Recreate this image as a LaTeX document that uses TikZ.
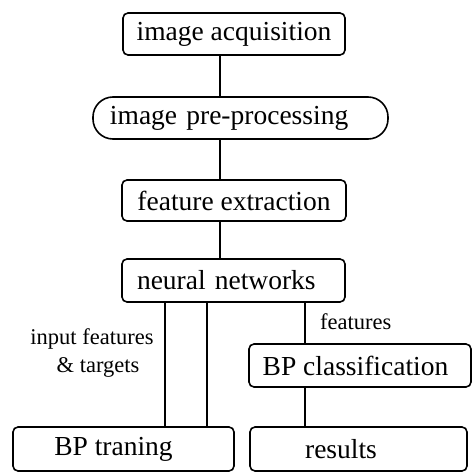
\documentclass[tikz,border=0pt]{standalone}
\usepackage{fontspec}
\setmainfont{Liberation Serif}
\begin{document}
\begin{tikzpicture}[x=1pt,y=1pt,
  box/.style={draw=black, line width=1.6pt, rounded corners=5pt, inner sep=0pt,
    font=\fontsize{27.5}{30}\selectfont},
  pill/.style={box, rounded corners=20pt},
  lbl/.style={font=\fontsize{22.5}{28}\selectfont, inner sep=0pt},
  link/.style={line width=1.6pt}]
\useasboundingbox (0,0) rectangle (474,475);
\node[box, minimum width=222pt, minimum height=42pt] (acq) at (234,441) {image acquisition};
\node[pill, minimum width=295pt, minimum height=42pt, text width=261pt, align=left] (pre) at (240.5,357) {image pre-processing};
\node[box, minimum width=224pt, minimum height=41pt] (feat) at (234,274.5) {feature extraction};
\node[box, minimum width=223pt, minimum height=43pt, text width=193pt, align=left] (nn) at (233.5,194.5) {neural networks};
\node[box, minimum width=222pt, minimum height=43pt] (bpc) at (360,109.5) {BP classification\kern9pt};
\node[box, minimum width=221pt, minimum height=44pt] (bpt) at (123.5,26) {BP traning\kern20pt};
\node[box, minimum width=217pt, minimum height=44pt] (res) at (358.5,26) {results\kern35pt};
\node[lbl, anchor=west] (lf) at (320,153) {features};
\node[lbl, align=center] (lit) at (92,122) {input features\\\kern12pt\& targets};
\coordinate (spine) at (220,0);
\coordinate (ta) at (165,0);
\coordinate (tb) at (207,0);
\coordinate (cl) at (305,0);
\draw[link] (acq.south -| spine) -- (pre.north -| spine);
\draw[link] (pre.south -| spine) -- (feat.north -| spine);
\draw[link] (feat.south -| spine) -- (nn.north -| spine);
\draw[link] (nn.south -| ta) -- (bpt.north -| ta);
\draw[link] (nn.south -| tb) -- (bpt.north -| tb);
\draw[link] (nn.south -| cl) -- (bpc.north -| cl);
\draw[link] (bpc.south -| cl) -- (res.north -| cl);
\end{tikzpicture}
\end{document}
